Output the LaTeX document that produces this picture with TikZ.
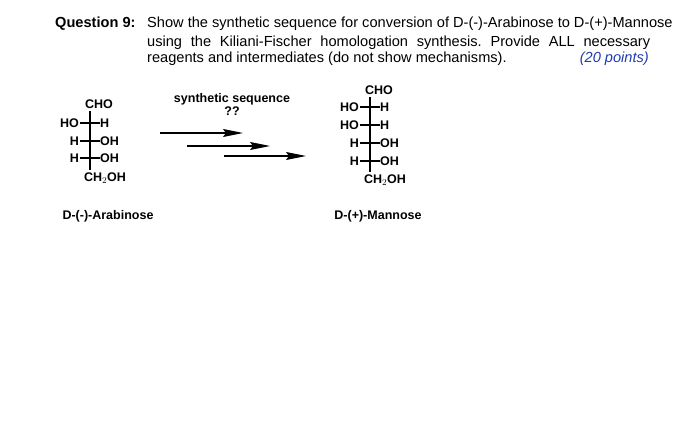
\documentclass[tikz,border=0pt]{standalone}
\usepackage{fontspec}
\setmainfont{Liberation Sans}
\usetikzlibrary{arrows.meta}
\frenchspacing
\definecolor{ptblue}{RGB}{30,60,170}
\tikzset{
  chem/.style={font=\fontsize{12.5}{13}\selectfont\bfseries, inner sep=0pt},
  txt/.style={font=\fontsize{14.6}{16}\selectfont, inner sep=0pt, anchor=base west},
  bond/.style={line width=1.2pt},
  rxn/.style={line width=1.2pt, -{Stealth[length=20pt,width=8pt,inset=3pt]}}
}
\begin{document}
\begin{tikzpicture}[x=1pt,y=-1pt]
\useasboundingbox (0,0) rectangle (700,436);
\node[txt,font=\fontsize{14.6}{16}\selectfont\bfseries] (q) at (55,28) {Question 9:};
\node[txt] (l1) at (147,28) {Show the synthetic sequence for conversion of D-(-)-Arabinose to D-(+)-Mannose};
\node[txt] (l2) at (147,46) {\makebox[503pt][s]{using the Kiliani-Fischer homologation synthesis. Provide ALL necessary}};
\node[txt] (l3) at (147,62) {reagents and intermediates (do not show mechanisms).};
\node[txt,anchor=base east,text=ptblue,font=\fontsize{14.6}{16}\selectfont\itshape] (pts) at (649,62) {(20 points)};
% left: arabinose
\node[chem] (aC) at (99,104) {CHO};
\draw[bond] (90,111) -- (90,170);
\foreach \y/\l/\r [count=\i] in {123/HO/H,141/H/OH,158/H/OH}{
  \draw[bond] (80,\y) -- (100,\y);
  \node[chem,anchor=east] (al\i) at (79,\y) {\l};
  \node[chem,anchor=west] (ar\i) at (100,\y) {\r};
}
\node[chem] (aB) at (105,178) {CH$_2$OH};
\node[chem] (aN) at (108,216) {D-(-)-Arabinose};
% arrows
\coordinate (s1) at (160,133); \coordinate (e1) at (243,133);
\coordinate (s2) at (187,146); \coordinate (e2) at (270,146);
\coordinate (s3) at (224,156); \coordinate (e3) at (306,156);
\draw[rxn] (s1) -- (e1);
\draw[rxn] (s2) -- (e2);
\draw[rxn] (s3) -- (e3);
\node[chem] (ss) at (232,99) {synthetic sequence};
\node[chem] (qq) at (232,111) {??};
% right: mannose
\node[chem] (mC) at (379,90) {CHO};
\draw[bond] (370,97) -- (370,172);
\foreach \y/\l/\r [count=\i] in {107/HO/H,125/HO/H,143/H/OH,161/H/OH}{
  \draw[bond] (360,\y) -- (380,\y);
  \node[chem,anchor=east] (ml\i) at (359,\y) {\l};
  \node[chem,anchor=west] (mr\i) at (380,\y) {\r};
}
\node[chem] (mB) at (385,180) {CH$_2$OH};
\node[chem] (mN) at (378,216) {D-(+)-Mannose};
\end{tikzpicture}
\end{document}
